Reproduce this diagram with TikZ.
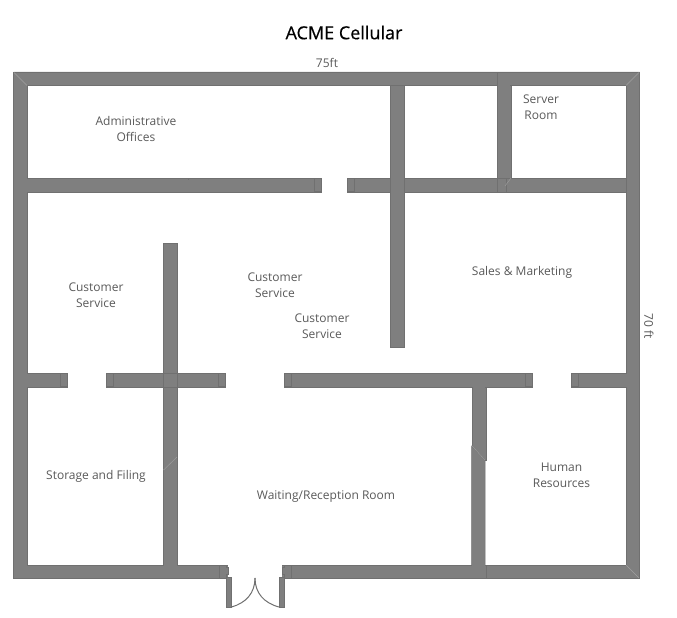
\documentclass[tikz,border=0pt]{standalone}
\usepackage{fontspec}
\setmainfont{Open Sans}
\newfontfamily\titlefont{Open Sans}[FakeBold=0.5]
\definecolor{wallfill}{HTML}{7F7F7F}
\definecolor{walledge}{HTML}{707070}
\definecolor{seam}{HTML}{A0A0A0}
\definecolor{labelgray}{HTML}{595959}
\tikzset{
  wall/.style={fill=wallfill,draw=walledge,line width=0.5pt},
  jamb/.style={fill=wallfill,draw=walledge,line width=0.6pt},
  seamline/.style={draw=seam,line width=0.4pt},
  swing/.style={draw=walledge,line width=1pt},
  room/.style={text=labelgray,font=\fontsize{12}{15.7}\selectfont,align=center,inner sep=0pt},
  titletext/.style={text=black,font=\titlefont\fontsize{18}{20}\selectfont,inner sep=0pt}
}
\begin{document}
\begin{tikzpicture}[x=1pt,y=-1pt]
\useasboundingbox (0,0) rectangle (677,618);
% outer shell
\draw[wall,even odd rule] (13.5,72) rectangle (639.5,578.5) (27,85.5) rectangle (626,565);
% upper partition with door gap
\draw[wall] (27,178) rectangle (321,192);
\draw[wall] (347,178) rectangle (639.5,192);
% vertical partition
\draw[wall] (390,85.5) rectangle (404,347);
% server room
\draw[wall] (497,72) rectangle (511,178);
\draw[wall] (497,72) rectangle (639.5,85.5);
\draw[wall] (626,72) rectangle (639.5,192);
\draw[wall] (497,178) rectangle (506,192);
% inner vertical
\draw[wall] (163.5,243) rectangle (177.5,565);
% middle horizontal
\draw[wall] (27,373) rectangle (67,387);
\draw[wall] (106,373) rectangle (225.5,387);
\draw[wall] (284,373) rectangle (532.5,387);
\draw[wall] (571,373) rectangle (626,387);
% HR wall
\draw[wall] (472.5,387) rectangle (486,460);
\draw[wall] (471.5,446) -- (485,460) -- (485,565) -- (471.5,565) -- cycle;
% cover joins so that only the outline of the plan stays dark
\fill[wallfill] (14,72.5) rectangle (26.5,578);
\fill[wallfill] (14,72.5) rectangle (496.5,85);
\fill[wallfill] (498,72.5) rectangle (639,85);
\fill[wallfill] (14,565.5) rectangle (639,578);
\fill[wallfill] (626.5,72.5) rectangle (639,578);
\fill[wallfill] (391,86) rectangle (403,346);
\fill[wallfill] (473,388) rectangle (485,445);
\fill[wallfill] (627,178.5) rectangle (639,191.5);
\fill[wallfill] (26,178.5) rectangle (28,191.5);
\fill[wallfill] (26,373.5) rectangle (28,386.5);
\fill[wallfill] (625,373.5) rectangle (627,386.5);
\fill[wallfill] (164,564) rectangle (177,567);
\fill[wallfill] (472,564) rectangle (485,567);
\fill[wallfill] (473,386) rectangle (485,389);
\fill[wallfill] (391,177) rectangle (403,193);
\fill[wallfill] (498,84) rectangle (510,87);
% door frame: clear gap in bottom wall
\fill[white] (228,563) rectangle (282,580);
\draw[walledge,line width=0.5pt] (177.5,565) -- (220,565) (177.5,578.5) -- (220,578.5);
\draw[walledge,line width=0.5pt] (291,565) -- (471.5,565) (291,578.5) -- (486,578.5);
% jambs
\draw[jamb] (314,178.5) rectangle (321,191.5);
\draw[jamb] (347,178.5) rectangle (354.5,191.5);
\draw[jamb] (60,373.5) rectangle (67,386.5);
\draw[jamb] (106,373.5) rectangle (113,386.5);
\draw[jamb] (218.5,373.5) rectangle (225.5,386.5);
\draw[jamb] (284,373.5) rectangle (291.5,386.5);
\draw[jamb] (525,373.5) rectangle (532.5,386.5);
\draw[jamb] (571,373.5) rectangle (578,386.5);
\draw[jamb] (219.5,565) -- (226.5,565) -- (226.5,567.5) -- (228,567.5) -- (228,574) -- (226.5,574) -- (226.5,578.5) -- (219.5,578.5) -- cycle;
\draw[jamb] (291.5,565) -- (284,565) -- (284,567.5) -- (282.5,567.5) -- (282.5,574) -- (284,574) -- (284,578.5) -- (291.5,578.5) -- cycle;
% seams
\draw[walledge,line width=0.4pt] (163.5,373) rectangle (177.5,387);
\draw[seamline] (14,72.5) -- (27,85.5);
\draw[seamline] (639,72.5) -- (626,85.5);
\draw[seamline] (639,578) -- (626,565);
\draw[seamline] (511,178) -- (505,186);
\draw[seamline] (163.5,470) -- (177,457);
\draw[seamline] (472,446) -- (485,460);
\draw[walledge,line width=0.4pt] (486,565) -- (486,578);
\draw[walledge,line width=0.4pt] (188,178) -- (188,180);
% door
\draw[jamb] (226,577.5) rectangle (231.5,607.5);
\draw[jamb] (279,577.5) rectangle (284.5,607.5);
\coordinate (doorTop) at (255,578);
\coordinate (leftFoot) at (231.5,607);
\coordinate (rightFoot) at (279,607);
\draw[swing] (leftFoot) .. controls (246,603) and (255,593) .. (doorTop);
\draw[swing] (rightFoot) .. controls (264,603) and (255,593) .. (doorTop);
% labels
\node[titletext] (title) at (344,32.5) {ACME Cellular};
\node[room] (width) at (327,62.5) {75ft};
\node[room,rotate=-90] (height) at (649,326) {70 ft};
\node[room] (admin) at (136,129) {Administrative\\Offices};
\node[room] (server) at (541,107.5) {Server\\Room};
\node[room] (sales) at (522,272.5) {Sales \& Marketing};
\node[room] (csa) at (96,295.5) {Customer\\Service};
\node[room] (csb) at (275,285.5) {Customer\\Service};
\node[room] (csc) at (322,326.5) {Customer\\Service};
\node[room] (storage) at (96,476) {Storage and Filing};
\node[room] (waiting) at (326,497) {Waiting/Reception Room};
\node[room] (hr) at (561.5,475.5) {Human\\Resources};
\end{tikzpicture}
\end{document}
